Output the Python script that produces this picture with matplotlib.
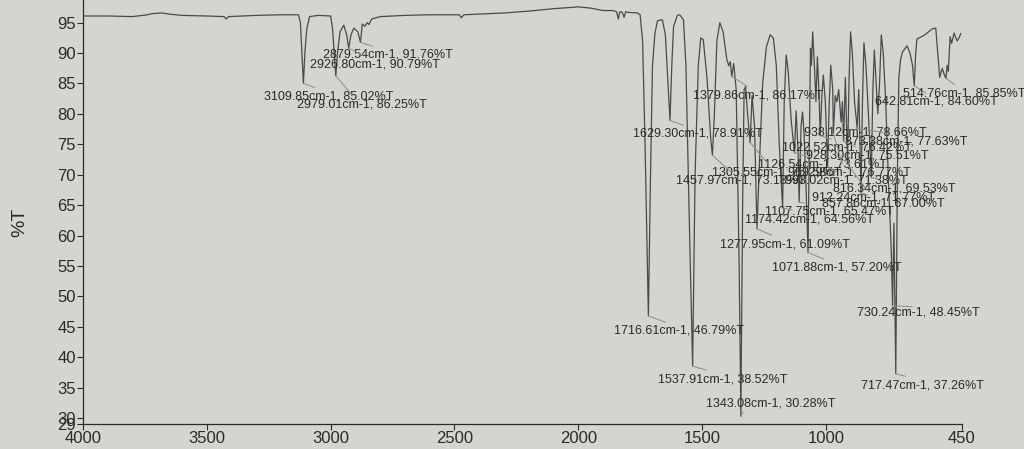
import matplotlib
matplotlib.use("Agg")
import matplotlib.pyplot as plt

# traced spectrum (wavenumber cm-1, %T)
wavenumber = [
    4000, 3900, 3800, 3740, 3720, 3680, 3650, 3600, 3500, 3430, 3422, 3412,
    3300, 3200, 3130, 3122, 3116, 3109.85, 3104, 3096, 3085, 3050, 3000,
    2992, 2984, 2979.01, 2972, 2962, 2947, 2935, 2926.80, 2918, 2906, 2890,
    2879.54, 2872, 2862, 2852, 2845, 2834, 2800, 2700, 2600, 2480, 2472,
    2462, 2300, 2200, 2100, 2000, 1950, 1900, 1860, 1845, 1838, 1832, 1822,
    1815, 1808, 1800, 1760, 1750, 1740, 1730, 1716.61, 1708, 1700, 1690,
    1680, 1660, 1648, 1640, 1629.30, 1622, 1615, 1600, 1590, 1575, 1565,
    1550, 1537.91, 1528, 1515, 1505, 1495, 1480, 1465, 1457.97, 1450, 1440,
    1428, 1415, 1400, 1392, 1386, 1379.86, 1372, 1362, 1350, 1343.08, 1336,
    1330, 1324, 1316, 1305.55, 1298, 1288, 1277.95, 1268, 1255, 1240, 1225,
    1212, 1200, 1188, 1174.42, 1168, 1160, 1152, 1140, 1126.54, 1120, 1112,
    1107.75, 1100, 1094, 1088, 1080, 1071.88, 1066, 1062, 1058, 1053, 1045,
    1040, 1034, 1028, 1022.52, 1016, 1010, 1002, 993.02, 986, 980, 972,
    969.58, 962, 955, 948, 938.12, 933, 928.30, 921, 912.24, 906, 900, 893,
    884, 873.38, 867, 857.86, 852, 846, 838, 828, 816.34, 810, 804, 798,
    790, 783, 776, 768, 758, 748, 736, 730.24, 725, 717.47, 711, 705, 698,
    690, 672, 660, 650, 642.81, 637, 632, 600, 570, 556, 548, 540, 530, 522,
    514.76, 510, 505, 498, 492, 482, 470, 462, 455,
]
transmittance = [
    96.1, 96.1, 96.0, 96.3, 96.5, 96.6, 96.4, 96.2, 96.1, 96.0, 95.6, 96.0,
    96.2, 96.3, 96.3, 95.0, 90.0, 85.02, 90.0, 94.0, 96.0, 96.2, 96.1,
    94.0, 89.0, 86.25, 90.0, 93.5, 94.6, 93.0, 90.79, 93.0, 94.1, 93.5,
    91.76, 94.8, 94.4, 95.0, 94.7, 95.6, 96.0, 96.2, 96.3, 96.3, 95.8,
    96.3, 96.6, 96.9, 97.3, 97.6, 97.4, 97.0, 97.0, 96.8, 95.6, 96.8, 96.7,
    95.9, 96.8, 96.7, 96.6, 96.3, 92.0, 75.0, 46.79, 70.0, 88.0, 93.3,
    95.3, 95.5, 93.0, 87.0, 78.91, 88.0, 94.3, 96.2, 96.3, 95.5, 88.0,
    60.0, 38.52, 70.0, 88.0, 92.5, 92.2, 86.0, 76.0, 73.18, 80.0, 92.0,
    95.0, 93.5, 89.0, 87.9, 88.6, 86.17, 88.3, 84.0, 55.0, 30.28, 65.0,
    84.0, 84.5, 80.0, 75.3, 83.0, 78.0, 61.09, 72.0, 85.0, 91.0, 93.0,
    92.5, 88.0, 75.0, 64.56, 82.0, 89.7, 87.0, 79.0, 73.61, 80.5, 74.0,
    65.47, 78.0, 80.3, 77.0, 68.0, 57.20, 78.0, 90.8, 88.0, 93.5, 87.0,
    82.0, 89.4, 84.0, 76.42, 83.0, 86.4, 82.0, 71.38, 82.0, 88.0, 84.0,
    76.77, 83.0, 82.0, 84.0, 78.66, 82.0, 75.51, 86.0, 71.77, 86.0, 93.5, 90.0,
    82.0, 77.63, 84.0, 67.00, 82.0, 91.7, 88.0, 80.0, 69.53, 84.0, 90.5, 86.0,
    80.0, 85.0, 93.0, 90.0, 82.0, 70.0, 58.0, 48.45, 62.0, 37.26, 70.0, 86.0, 89.0,
    90.2, 91.2, 90.0, 88.0, 84.60, 90.0, 92.3, 93.0, 94.0, 94.1, 90.0, 86.0, 87.5, 86.5,
    85.85, 88.0, 87.0, 92.7, 91.6, 93.3, 92.0, 92.5, 93.2,
]

# picked peaks
peak_wn = [2879.54, 2926.80, 3109.85, 2979.01, 1379.86, 642.81, 514.76,
           1629.30, 938.12, 873.38, 1022.52, 928.30, 1126.54, 1305.55,
           969.58, 1457.97, 993.02, 816.34, 912.24, 857.86, 1107.75,
           1174.42, 1277.95, 1071.88, 1716.61, 730.24, 1537.91, 717.47,
           1343.08]
peak_t = [91.76, 90.79, 85.02, 86.25, 86.17, 84.60, 85.85,
          78.91, 78.66, 77.63, 76.42, 75.51, 73.61, 75.29,
          76.77, 73.18, 71.38, 69.53, 71.77, 67.00, 65.47,
          64.56, 61.09, 57.20, 46.79, 48.45, 38.52, 37.26,
          30.28]

# where each peak label sits (left edge wavenumber, centre %T)
label_x = [3031, 3083, 3269, 3136, 1536, 801, 688,
           1779, 1088, 923, 1177, 1080, 1274, 1460,
           1153, 1605, 1165, 971, 1056, 1015, 1246,
           1326, 1427, 1217, 1855, 874, 1678, 858,
           1484]
label_y = [89.7, 88.2, 82.9, 81.5, 83.1, 82.0, 83.4,
           76.7, 76.9, 75.5, 74.4, 73.1, 71.6, 70.4,
           70.3, 69.0, 69.0, 67.8, 66.3, 65.2, 63.9,
           62.7, 58.6, 54.7, 44.3, 47.3, 36.4, 35.4,
           32.4]

xticks = [4000, 3500, 3000, 2500, 2000, 1500, 1000, 450]
yticks = [29, 30, 35, 40, 45, 50, 55, 60, 65, 70, 75, 80, 85, 90, 95, 100]

PAPER = "#d6d4cf"
INK = "#2a2a2a"
LINE = "#4a4a4a"
LEADER = "#8c8c8c"

plt.rcParams["font.family"] = ["Liberation Sans", "DejaVu Sans"]

fig = plt.figure(figsize=(10.24, 4.49), dpi=100, facecolor=PAPER)
ax = fig.add_axes([83 / 1024, 25 / 449, 879 / 1024, 0.9615])
ax.set_facecolor(PAPER)

ax.plot(wavenumber, transmittance, color=LINE, lw=0.9, zorder=3)

for wn, t, lx, ly in zip(peak_wn, peak_t, label_x, label_y):
    rel = (0.45, 1.0) if ly < t else (0.3, 0.0)
    ax.annotate(f"{wn:.2f}cm-1, {t:.2f}%T", xy=(wn, t), xytext=(lx, ly),
                ha="left", va="center", fontsize=9, color=INK,
                arrowprops=dict(arrowstyle="-", color=LEADER, lw=0.7,
                                shrinkA=0, shrinkB=0, relpos=rel),
                annotation_clip=False, zorder=4)

ax.set_xlim(4000, 450)
ax.set_ylim(29, 100)
ax.set_xticks(xticks)
ax.set_yticks(yticks)
ax.tick_params(axis="both", direction="out", length=4, width=0.8,
               colors=INK, labelsize=12, pad=1)
for side in ("top", "right"):
    ax.spines[side].set_visible(False)
for side in ("left", "bottom"):
    ax.spines[side].set_color(INK)
    ax.spines[side].set_linewidth(0.9)

fig.text(20 / 1024, 1 - 222 / 449, "%T", rotation=90, ha="center",
         va="center", fontsize=14, color=INK)

fig.savefig("out.png", dpi=100, facecolor=PAPER)
